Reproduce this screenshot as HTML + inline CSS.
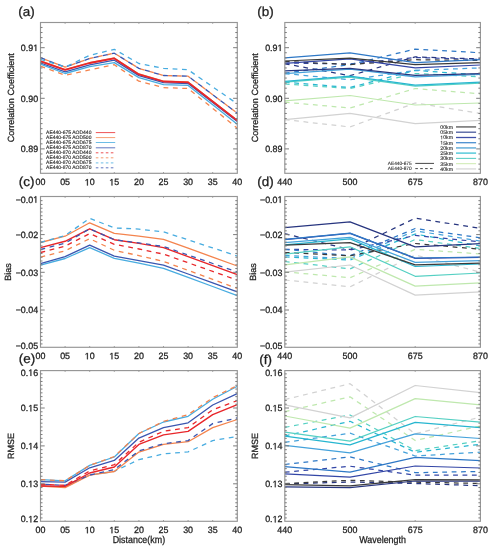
<!DOCTYPE html>
<html><head><meta charset="utf-8"><style>
html,body{margin:0;padding:0;background:#fff;}
svg{display:block;filter:blur(0.45px);}
text{font-family:"Liberation Sans", sans-serif;text-rendering:geometricPrecision;fill:#1e1e1e;stroke:#1e1e1e;stroke-width:0.18px;}
</style></head><body>
<svg width="494" height="550" viewBox="0 0 494 550">
<rect width="494" height="550" fill="#fff"/>
<defs>
<clipPath id="clipL0"><rect x="40.5" y="22.5" width="196.8" height="150.8"/></clipPath>
<clipPath id="clipR0"><rect x="284.8" y="22.5" width="195.59999999999997" height="150.8"/></clipPath>
<clipPath id="clipL1"><rect x="40.5" y="196.5" width="196.8" height="150.8"/></clipPath>
<clipPath id="clipR1"><rect x="284.8" y="196.5" width="195.59999999999997" height="150.8"/></clipPath>
<clipPath id="clipL2"><rect x="40.5" y="370.6" width="196.8" height="150.69999999999993"/></clipPath>
<clipPath id="clipR2"><rect x="284.8" y="370.6" width="195.59999999999997" height="150.69999999999993"/></clipPath>
</defs>
<g clip-path="url(#clipL0)">
<polyline points="40.50,61.00 65.10,69.60 89.70,62.70 114.30,58.00 138.90,74.00 163.50,81.10 188.10,82.00 212.70,101.20 237.30,120.40" fill="none" stroke="#f4844e" stroke-width="1.4" stroke-linejoin="round"/>
<polyline points="40.50,63.00 65.10,71.90 89.70,64.80 114.30,60.20 138.90,75.60 163.50,82.60 188.10,83.50 212.70,102.55 237.30,121.60" fill="none" stroke="#3a56b0" stroke-width="1.3" stroke-linejoin="round"/>
<polyline points="40.50,61.30 65.10,69.90 89.70,63.00 114.30,58.40 138.90,74.40 163.50,81.50 188.10,82.40 212.70,101.50 237.30,120.60" fill="none" stroke="#e8262a" stroke-width="1.8" stroke-linejoin="round"/>
<polyline points="40.50,64.20 65.10,73.50 89.70,66.70 114.30,62.60 138.90,77.60 163.50,84.70 188.10,85.40 212.70,104.80 237.30,124.20" fill="none" stroke="#48ace0" stroke-width="1.3" stroke-linejoin="round"/>
<polyline points="40.50,66.20 65.10,75.30 89.70,69.90 114.30,64.70 138.90,81.20 163.50,87.60 188.10,88.50 212.70,108.35 237.30,128.20" fill="none" stroke="#f4844e" stroke-width="1.3" stroke-linejoin="round" stroke-dasharray="4.8 4.6" stroke-dashoffset="0"/>
<polyline points="40.50,57.70 65.10,67.10 89.70,58.50 114.30,53.20 138.90,68.40 163.50,75.50 188.10,76.20 212.70,94.70 237.30,113.20" fill="none" stroke="#f4844e" stroke-width="1.3" stroke-linejoin="round" stroke-dasharray="4.8 4.6" stroke-dashoffset="5"/>
<polyline points="40.50,57.70 65.10,67.10 89.70,58.50 114.30,53.20 138.90,68.40 163.50,75.50 188.10,76.20 212.70,94.70 237.30,113.20" fill="none" stroke="#3a56b0" stroke-width="1.3" stroke-linejoin="round" stroke-dasharray="4.8 4.6" stroke-dashoffset="0"/>
<polyline points="40.50,59.30 65.10,67.10 89.70,55.30 114.30,49.30 138.90,63.50 163.50,68.40 188.10,69.80 212.70,86.80 237.30,103.80" fill="none" stroke="#48ace0" stroke-width="1.3" stroke-linejoin="round" stroke-dasharray="4.8 4.6" stroke-dashoffset="0"/>
</g><g clip-path="url(#clipL1)">
<polyline points="40.50,257.20 65.10,250.80 89.70,238.70 114.30,250.30 138.90,255.60 163.50,261.40 188.10,270.40 212.70,279.40 237.30,288.40" fill="none" stroke="#f4844e" stroke-width="1.3" stroke-linejoin="round" stroke-dasharray="4.8 4.6" stroke-dashoffset="0"/>
<polyline points="40.50,252.50 65.10,246.10 89.70,233.60 114.30,244.30 138.90,249.00 163.50,254.10 188.10,262.77 212.70,271.43 237.30,280.10" fill="none" stroke="#e8262a" stroke-width="1.3" stroke-linejoin="round" stroke-dasharray="4.8 4.6" stroke-dashoffset="0"/>
<polyline points="40.50,265.20 65.10,258.50 89.70,247.60 114.30,258.30 138.90,263.10 163.50,268.30 188.10,277.40 212.70,286.50 237.30,295.60" fill="none" stroke="#48ace0" stroke-width="1.3" stroke-linejoin="round"/>
<polyline points="40.50,263.60 65.10,256.60 89.70,245.10 114.30,256.10 138.90,260.60 163.50,265.10 188.10,274.00 212.70,282.90 237.30,291.80" fill="none" stroke="#3a56b0" stroke-width="1.3" stroke-linejoin="round"/>
<polyline points="40.50,242.50 65.10,236.20 89.70,222.80 114.30,233.40 138.90,236.10 163.50,239.30 188.10,248.20 212.70,257.10 237.30,266.00" fill="none" stroke="#f4844e" stroke-width="1.3" stroke-linejoin="round"/>
<polyline points="40.50,247.60 65.10,241.30 89.70,228.80 114.30,239.70 138.90,243.40 163.50,247.60 188.10,256.60 212.70,265.60 237.30,274.60" fill="none" stroke="#e8262a" stroke-width="1.4" stroke-linejoin="round"/>
<polyline points="40.50,249.50 65.10,243.20 89.70,228.80 114.30,239.70 138.90,242.90 163.50,246.50 188.10,255.00 212.70,263.50 237.30,272.00" fill="none" stroke="#3a56b0" stroke-width="1.3" stroke-linejoin="round" stroke-dasharray="4.8 4.6" stroke-dashoffset="0"/>
<polyline points="40.50,242.50 65.10,235.50 89.70,218.30 114.30,227.90 138.90,229.10 163.50,231.80 188.10,239.87 212.70,247.93 237.30,256.00" fill="none" stroke="#48ace0" stroke-width="1.3" stroke-linejoin="round" stroke-dasharray="4.8 4.6" stroke-dashoffset="0"/>
</g><g clip-path="url(#clipL2)">
<polyline points="40.50,485.50 65.10,487.00 89.70,475.10 114.30,471.30 138.90,459.70 163.50,453.90 188.10,451.90 212.70,440.60 237.30,436.50" fill="none" stroke="#48ace0" stroke-width="1.3" stroke-linejoin="round" stroke-dasharray="4.8 4.6" stroke-dashoffset="0"/>
<polyline points="40.50,486.00 65.10,487.70 89.70,475.10 114.30,471.50 138.90,452.10 163.50,444.40 188.10,441.70 212.70,427.60 237.30,419.50" fill="none" stroke="#f4844e" stroke-width="1.3" stroke-linejoin="round"/>
<polyline points="40.50,484.30 65.10,485.30 89.70,475.10 114.30,469.60 138.90,450.90 163.50,443.70 188.10,440.60 212.70,423.60 237.30,417.90" fill="none" stroke="#3a56b0" stroke-width="1.3" stroke-linejoin="round" stroke-dasharray="4.8 4.6" stroke-dashoffset="4.7"/>
<polyline points="40.50,486.00 65.10,486.40 89.70,473.00 114.30,467.00 138.90,444.40 163.50,434.90 188.10,431.40 212.70,414.70 237.30,404.60" fill="none" stroke="#e8262a" stroke-width="1.4" stroke-linejoin="round"/>
<polyline points="40.50,484.30 65.10,485.30 89.70,471.00 114.30,464.70 138.90,442.20 163.50,431.30 188.10,427.60 212.70,409.80 237.30,400.60" fill="none" stroke="#e8262a" stroke-width="1.3" stroke-linejoin="round" stroke-dasharray="4.8 4.6" stroke-dashoffset="0"/>
<polyline points="40.50,481.60 65.10,482.10 89.70,467.80 114.30,460.40 138.90,438.10 163.50,427.70 188.10,422.80 212.70,405.00 237.30,393.60" fill="none" stroke="#3a56b0" stroke-width="1.3" stroke-linejoin="round"/>
<polyline points="40.50,479.60 65.10,480.80 89.70,465.40 114.30,457.00 138.90,433.50 163.50,422.00 188.10,416.30 212.70,399.30 237.30,386.30" fill="none" stroke="#48ace0" stroke-width="1.3" stroke-linejoin="round"/>
<polyline points="40.50,479.60 65.10,480.80 89.70,465.40 114.30,456.50 138.90,433.50 163.50,421.50 188.10,414.70 212.70,397.70 237.30,385.50" fill="none" stroke="#f4844e" stroke-width="1.3" stroke-linejoin="round" stroke-dasharray="4.8 4.6" stroke-dashoffset="0"/>
</g>
<g clip-path="url(#clipR0)">
<polyline points="284.80,119.60 350.00,127.00 415.20,103.00 480.40,113.40" fill="none" stroke="#d2d2d2" stroke-width="1.25" stroke-linejoin="round" stroke-dasharray="4.8 4.6" stroke-dashoffset="0"/>
<polyline points="284.80,102.20 350.00,108.00 415.20,88.50 480.40,93.90" fill="none" stroke="#bfe8ae" stroke-width="1.25" stroke-linejoin="round" stroke-dasharray="4.8 4.6" stroke-dashoffset="0"/>
<polyline points="284.80,84.00 350.00,88.50 415.20,73.50 480.40,77.00" fill="none" stroke="#55d0c3" stroke-width="1.25" stroke-linejoin="round" stroke-dasharray="4.8 4.6" stroke-dashoffset="0"/>
<polyline points="284.80,82.20 350.00,87.50 415.20,70.40 480.40,74.90" fill="none" stroke="#27b6d0" stroke-width="1.25" stroke-linejoin="round" stroke-dasharray="4.8 4.6" stroke-dashoffset="0"/>
<polyline points="284.80,73.60 350.00,79.80 415.20,70.40 480.40,67.90" fill="none" stroke="#45a2db" stroke-width="1.25" stroke-linejoin="round" stroke-dasharray="4.8 4.6" stroke-dashoffset="0"/>
<polyline points="284.80,63.00 350.00,64.00 415.20,57.50 480.40,59.50" fill="none" stroke="#3346a6" stroke-width="1.25" stroke-linejoin="round" stroke-dasharray="4.8 4.6" stroke-dashoffset="0"/>
<polyline points="284.80,73.20 350.00,64.60 415.20,49.10 480.40,52.80" fill="none" stroke="#2e78c6" stroke-width="1.25" stroke-linejoin="round" stroke-dasharray="4.8 4.6" stroke-dashoffset="0"/>
<polyline points="284.80,63.80 350.00,75.70 415.20,56.90 480.40,58.90" fill="none" stroke="#27357f" stroke-width="1.25" stroke-linejoin="round" stroke-dasharray="4.8 4.6" stroke-dashoffset="0"/>
<polyline points="284.80,61.40 350.00,64.60 415.20,59.70 480.40,60.50" fill="none" stroke="#3a3a3a" stroke-width="1.25" stroke-linejoin="round" stroke-dasharray="4.8 4.6" stroke-dashoffset="0"/>
<polyline points="284.80,119.60 350.00,113.40 415.20,123.70 480.40,120.40" fill="none" stroke="#d2d2d2" stroke-width="1.25" stroke-linejoin="round"/>
<polyline points="284.80,100.90 350.00,95.50 415.20,105.00 480.40,103.00" fill="none" stroke="#bfe8ae" stroke-width="1.25" stroke-linejoin="round"/>
<polyline points="284.80,82.20 350.00,77.20 415.20,86.20 480.40,83.20" fill="none" stroke="#55d0c3" stroke-width="1.25" stroke-linejoin="round"/>
<polyline points="284.80,81.40 350.00,76.10 415.20,85.10 480.40,82.20" fill="none" stroke="#27b6d0" stroke-width="1.25" stroke-linejoin="round"/>
<polyline points="284.80,73.60 350.00,69.10 415.20,76.90 480.40,74.50" fill="none" stroke="#45a2db" stroke-width="1.25" stroke-linejoin="round"/>
<polyline points="284.80,63.40 350.00,58.90 415.20,67.90 480.40,65.00" fill="none" stroke="#3346a6" stroke-width="1.25" stroke-linejoin="round"/>
<polyline points="284.80,57.90 350.00,52.80 415.20,62.60 480.40,59.70" fill="none" stroke="#2e78c6" stroke-width="1.25" stroke-linejoin="round"/>
<polyline points="284.80,70.80 350.00,68.30 415.20,75.30 480.40,73.60" fill="none" stroke="#27357f" stroke-width="1.25" stroke-linejoin="round"/>
<polyline points="284.80,61.00 350.00,58.10 415.20,64.60 480.40,62.60" fill="none" stroke="#3a3a3a" stroke-width="1.25" stroke-linejoin="round"/>
</g>
<g clip-path="url(#clipR1)">
<polyline points="284.80,280.00 350.00,286.80 415.20,255.00 480.40,272.20" fill="none" stroke="#d2d2d2" stroke-width="1.25" stroke-linejoin="round" stroke-dasharray="4.8 4.6" stroke-dashoffset="0"/>
<polyline points="284.80,271.80 350.00,277.80 415.20,249.30 480.40,254.00" fill="none" stroke="#bfe8ae" stroke-width="1.25" stroke-linejoin="round" stroke-dasharray="4.8 4.6" stroke-dashoffset="0"/>
<polyline points="284.80,261.50 350.00,268.90 415.20,239.50 480.40,248.50" fill="none" stroke="#55d0c3" stroke-width="1.25" stroke-linejoin="round" stroke-dasharray="4.8 4.6" stroke-dashoffset="0"/>
<polyline points="284.80,257.00 350.00,260.00 415.20,234.00 480.40,246.00" fill="none" stroke="#27b6d0" stroke-width="1.25" stroke-linejoin="round" stroke-dasharray="4.8 4.6" stroke-dashoffset="0"/>
<polyline points="284.80,255.50 350.00,258.60 415.20,230.80 480.40,241.00" fill="none" stroke="#45a2db" stroke-width="1.25" stroke-linejoin="round" stroke-dasharray="4.8 4.6" stroke-dashoffset="0"/>
<polyline points="284.80,249.30 350.00,250.00 415.20,235.40 480.40,241.90" fill="none" stroke="#3346a6" stroke-width="1.25" stroke-linejoin="round" stroke-dasharray="4.8 4.6" stroke-dashoffset="0"/>
<polyline points="284.80,249.30 350.00,255.80 415.20,228.50 480.40,237.80" fill="none" stroke="#2e78c6" stroke-width="1.25" stroke-linejoin="round" stroke-dasharray="4.8 4.6" stroke-dashoffset="0"/>
<polyline points="284.80,233.70 350.00,249.50 415.20,218.20 480.40,228.30" fill="none" stroke="#27357f" stroke-width="1.25" stroke-linejoin="round" stroke-dasharray="4.8 4.6" stroke-dashoffset="0"/>
<polyline points="284.80,252.50 350.00,255.80 415.20,243.50 480.40,249.30" fill="none" stroke="#3a3a3a" stroke-width="1.25" stroke-linejoin="round" stroke-dasharray="4.8 4.6" stroke-dashoffset="0"/>
<polyline points="284.80,272.20 350.00,265.00 415.20,295.10 480.40,291.80" fill="none" stroke="#d2d2d2" stroke-width="1.25" stroke-linejoin="round"/>
<polyline points="284.80,264.80 350.00,256.90 415.20,286.10 480.40,282.80" fill="none" stroke="#bfe8ae" stroke-width="1.25" stroke-linejoin="round"/>
<polyline points="284.80,254.20 350.00,246.80 415.20,276.30 480.40,273.00" fill="none" stroke="#55d0c3" stroke-width="1.25" stroke-linejoin="round"/>
<polyline points="284.80,244.80 350.00,238.80 415.20,266.50 480.40,264.00" fill="none" stroke="#27b6d0" stroke-width="1.25" stroke-linejoin="round"/>
<polyline points="284.80,242.70 350.00,237.30 415.20,262.40 480.40,260.70" fill="none" stroke="#45a2db" stroke-width="1.25" stroke-linejoin="round"/>
<polyline points="284.80,239.60 350.00,233.30 415.20,258.30 480.40,257.30" fill="none" stroke="#3346a6" stroke-width="1.25" stroke-linejoin="round"/>
<polyline points="284.80,239.30 350.00,233.10 415.20,258.00 480.40,257.00" fill="none" stroke="#2e78c6" stroke-width="1.25" stroke-linejoin="round"/>
<polyline points="284.80,227.70 350.00,221.80 415.20,246.80 480.40,243.60" fill="none" stroke="#27357f" stroke-width="1.25" stroke-linejoin="round"/>
<polyline points="284.80,245.20 350.00,242.70 415.20,264.80 480.40,263.20" fill="none" stroke="#3a3a3a" stroke-width="1.25" stroke-linejoin="round"/>
</g>
<g clip-path="url(#clipR2)">
<polyline points="284.80,399.60 350.00,383.70 415.20,433.90 480.40,417.00" fill="none" stroke="#d2d2d2" stroke-width="1.25" stroke-linejoin="round" stroke-dasharray="4.8 4.6" stroke-dashoffset="0"/>
<polyline points="284.80,411.60 350.00,396.80 415.20,440.50 480.40,426.00" fill="none" stroke="#bfe8ae" stroke-width="1.25" stroke-linejoin="round" stroke-dasharray="4.8 4.6" stroke-dashoffset="0"/>
<polyline points="284.80,427.40 350.00,415.00 415.20,450.60 480.40,440.80" fill="none" stroke="#55d0c3" stroke-width="1.25" stroke-linejoin="round" stroke-dasharray="4.8 4.6" stroke-dashoffset="0"/>
<polyline points="284.80,436.00 350.00,421.30 415.20,452.30 480.40,444.20" fill="none" stroke="#27b6d0" stroke-width="1.25" stroke-linejoin="round" stroke-dasharray="4.8 4.6" stroke-dashoffset="0"/>
<polyline points="284.80,442.40 350.00,433.20 415.20,456.00 480.40,452.10" fill="none" stroke="#45a2db" stroke-width="1.25" stroke-linejoin="round" stroke-dasharray="4.8 4.6" stroke-dashoffset="0"/>
<polyline points="284.80,472.20 350.00,466.20 415.20,475.20 480.40,475.20" fill="none" stroke="#3346a6" stroke-width="1.25" stroke-linejoin="round" stroke-dasharray="4.8 4.6" stroke-dashoffset="0"/>
<polyline points="284.80,464.50 350.00,456.90 415.20,472.70 480.40,471.40" fill="none" stroke="#2e78c6" stroke-width="1.25" stroke-linejoin="round" stroke-dasharray="4.8 4.6" stroke-dashoffset="0"/>
<polyline points="284.80,484.00 350.00,482.00 415.20,483.50 480.40,485.70" fill="none" stroke="#27357f" stroke-width="1.25" stroke-linejoin="round" stroke-dasharray="4.8 4.6" stroke-dashoffset="0"/>
<polyline points="284.80,483.60 350.00,480.30 415.20,482.20 480.40,483.40" fill="none" stroke="#3a3a3a" stroke-width="1.25" stroke-linejoin="round" stroke-dasharray="4.8 4.6" stroke-dashoffset="0"/>
<polyline points="284.80,404.90 350.00,417.90 415.20,385.50 480.40,392.70" fill="none" stroke="#d2d2d2" stroke-width="1.25" stroke-linejoin="round"/>
<polyline points="284.80,416.00 350.00,428.10 415.20,398.60 480.40,404.90" fill="none" stroke="#bfe8ae" stroke-width="1.25" stroke-linejoin="round"/>
<polyline points="284.80,432.10 350.00,441.20 415.20,416.50 480.40,422.20" fill="none" stroke="#55d0c3" stroke-width="1.25" stroke-linejoin="round"/>
<polyline points="284.80,436.10 350.00,444.80 415.20,422.30 480.40,427.60" fill="none" stroke="#27b6d0" stroke-width="1.25" stroke-linejoin="round"/>
<polyline points="284.80,445.40 350.00,452.80 415.20,433.90 480.40,438.50" fill="none" stroke="#45a2db" stroke-width="1.25" stroke-linejoin="round"/>
<polyline points="284.80,473.80 350.00,477.10 415.20,466.00 480.40,468.00" fill="none" stroke="#3346a6" stroke-width="1.25" stroke-linejoin="round"/>
<polyline points="284.80,466.70 350.00,472.20 415.20,457.40 480.40,460.70" fill="none" stroke="#2e78c6" stroke-width="1.25" stroke-linejoin="round"/>
<polyline points="284.80,486.90 350.00,487.60 415.20,481.00 480.40,481.10" fill="none" stroke="#27357f" stroke-width="1.25" stroke-linejoin="round"/>
<polyline points="284.80,484.70 350.00,485.80 415.20,479.70 480.40,479.80" fill="none" stroke="#3a3a3a" stroke-width="1.25" stroke-linejoin="round"/>
</g>
<rect x="40.50" y="22.50" width="196.80" height="150.80" fill="none" stroke="#959595" stroke-width="1.15"/>
<path d="M40.50 169.14h2.0M237.30 169.14h-2.0M40.50 164.08h2.0M237.30 164.08h-2.0M40.50 159.02h2.0M237.30 159.02h-2.0M40.50 153.96h2.0M237.30 153.96h-2.0M40.50 148.90h4.2M237.30 148.90h-4.2M40.50 143.84h2.0M237.30 143.84h-2.0M40.50 138.78h2.0M237.30 138.78h-2.0M40.50 133.72h2.0M237.30 133.72h-2.0M40.50 128.66h2.0M237.30 128.66h-2.0M40.50 123.60h2.0M237.30 123.60h-2.0M40.50 118.54h2.0M237.30 118.54h-2.0M40.50 113.48h2.0M237.30 113.48h-2.0M40.50 108.42h2.0M237.30 108.42h-2.0M40.50 103.36h2.0M237.30 103.36h-2.0M40.50 98.30h4.2M237.30 98.30h-4.2M40.50 93.24h2.0M237.30 93.24h-2.0M40.50 88.18h2.0M237.30 88.18h-2.0M40.50 83.12h2.0M237.30 83.12h-2.0M40.50 78.06h2.0M237.30 78.06h-2.0M40.50 73.00h2.0M237.30 73.00h-2.0M40.50 67.94h2.0M237.30 67.94h-2.0M40.50 62.88h2.0M237.30 62.88h-2.0M40.50 57.82h2.0M237.30 57.82h-2.0M40.50 52.76h2.0M237.30 52.76h-2.0M40.50 47.70h4.2M237.30 47.70h-4.2M40.50 42.64h2.0M237.30 42.64h-2.0M40.50 37.58h2.0M237.30 37.58h-2.0M40.50 32.52h2.0M237.30 32.52h-2.0M40.50 27.46h2.0M237.30 27.46h-2.0" stroke="#7c7c7c" stroke-width="1.0" fill="none"/>
<path d="M65.10 173.30v-1.3M65.10 22.50v1.3M89.70 173.30v-1.3M89.70 22.50v1.3M114.30 173.30v-1.3M114.30 22.50v1.3M138.90 173.30v-1.3M138.90 22.50v1.3M163.50 173.30v-1.3M163.50 22.50v1.3M188.10 173.30v-1.3M188.10 22.50v1.3M212.70 173.30v-1.3M212.70 22.50v1.3" stroke="#959595" stroke-width="0.9" fill="none"/>
<rect x="40.50" y="196.50" width="196.80" height="150.80" fill="none" stroke="#959595" stroke-width="1.15"/>
<path d="M40.50 343.93h2.0M237.30 343.93h-2.0M40.50 340.16h2.0M237.30 340.16h-2.0M40.50 336.39h2.0M237.30 336.39h-2.0M40.50 332.62h2.0M237.30 332.62h-2.0M40.50 328.85h2.0M237.30 328.85h-2.0M40.50 325.08h2.0M237.30 325.08h-2.0M40.50 321.31h2.0M237.30 321.31h-2.0M40.50 317.54h2.0M237.30 317.54h-2.0M40.50 313.77h2.0M237.30 313.77h-2.0M40.50 310.00h4.2M237.30 310.00h-4.2M40.50 306.23h2.0M237.30 306.23h-2.0M40.50 302.46h2.0M237.30 302.46h-2.0M40.50 298.69h2.0M237.30 298.69h-2.0M40.50 294.92h2.0M237.30 294.92h-2.0M40.50 291.15h2.0M237.30 291.15h-2.0M40.50 287.38h2.0M237.30 287.38h-2.0M40.50 283.61h2.0M237.30 283.61h-2.0M40.50 279.84h2.0M237.30 279.84h-2.0M40.50 276.07h2.0M237.30 276.07h-2.0M40.50 272.30h4.2M237.30 272.30h-4.2M40.50 268.53h2.0M237.30 268.53h-2.0M40.50 264.76h2.0M237.30 264.76h-2.0M40.50 260.99h2.0M237.30 260.99h-2.0M40.50 257.22h2.0M237.30 257.22h-2.0M40.50 253.45h2.0M237.30 253.45h-2.0M40.50 249.68h2.0M237.30 249.68h-2.0M40.50 245.91h2.0M237.30 245.91h-2.0M40.50 242.14h2.0M237.30 242.14h-2.0M40.50 238.37h2.0M237.30 238.37h-2.0M40.50 234.60h4.2M237.30 234.60h-4.2M40.50 230.83h2.0M237.30 230.83h-2.0M40.50 227.06h2.0M237.30 227.06h-2.0M40.50 223.29h2.0M237.30 223.29h-2.0M40.50 219.52h2.0M237.30 219.52h-2.0M40.50 215.75h2.0M237.30 215.75h-2.0M40.50 211.98h2.0M237.30 211.98h-2.0M40.50 208.21h2.0M237.30 208.21h-2.0M40.50 204.44h2.0M237.30 204.44h-2.0M40.50 200.67h2.0M237.30 200.67h-2.0" stroke="#7c7c7c" stroke-width="1.0" fill="none"/>
<path d="M65.10 347.30v-1.3M65.10 196.50v1.3M89.70 347.30v-1.3M89.70 196.50v1.3M114.30 347.30v-1.3M114.30 196.50v1.3M138.90 347.30v-1.3M138.90 196.50v1.3M163.50 347.30v-1.3M163.50 196.50v1.3M188.10 347.30v-1.3M188.10 196.50v1.3M212.70 347.30v-1.3M212.70 196.50v1.3" stroke="#959595" stroke-width="0.9" fill="none"/>
<rect x="40.50" y="370.60" width="196.80" height="150.70" fill="none" stroke="#959595" stroke-width="1.15"/>
<path d="M40.50 517.91h2.0M237.30 517.91h-2.0M40.50 514.12h2.0M237.30 514.12h-2.0M40.50 510.33h2.0M237.30 510.33h-2.0M40.50 506.54h2.0M237.30 506.54h-2.0M40.50 502.75h2.0M237.30 502.75h-2.0M40.50 498.96h2.0M237.30 498.96h-2.0M40.50 495.17h2.0M237.30 495.17h-2.0M40.50 491.38h2.0M237.30 491.38h-2.0M40.50 487.59h2.0M237.30 487.59h-2.0M40.50 483.80h4.2M237.30 483.80h-4.2M40.50 480.01h2.0M237.30 480.01h-2.0M40.50 476.22h2.0M237.30 476.22h-2.0M40.50 472.43h2.0M237.30 472.43h-2.0M40.50 468.64h2.0M237.30 468.64h-2.0M40.50 464.85h2.0M237.30 464.85h-2.0M40.50 461.06h2.0M237.30 461.06h-2.0M40.50 457.27h2.0M237.30 457.27h-2.0M40.50 453.48h2.0M237.30 453.48h-2.0M40.50 449.69h2.0M237.30 449.69h-2.0M40.50 445.90h4.2M237.30 445.90h-4.2M40.50 442.11h2.0M237.30 442.11h-2.0M40.50 438.32h2.0M237.30 438.32h-2.0M40.50 434.53h2.0M237.30 434.53h-2.0M40.50 430.74h2.0M237.30 430.74h-2.0M40.50 426.95h2.0M237.30 426.95h-2.0M40.50 423.16h2.0M237.30 423.16h-2.0M40.50 419.37h2.0M237.30 419.37h-2.0M40.50 415.58h2.0M237.30 415.58h-2.0M40.50 411.79h2.0M237.30 411.79h-2.0M40.50 408.00h4.2M237.30 408.00h-4.2M40.50 404.21h2.0M237.30 404.21h-2.0M40.50 400.42h2.0M237.30 400.42h-2.0M40.50 396.63h2.0M237.30 396.63h-2.0M40.50 392.84h2.0M237.30 392.84h-2.0M40.50 389.05h2.0M237.30 389.05h-2.0M40.50 385.26h2.0M237.30 385.26h-2.0M40.50 381.47h2.0M237.30 381.47h-2.0M40.50 377.68h2.0M237.30 377.68h-2.0M40.50 373.89h2.0M237.30 373.89h-2.0" stroke="#7c7c7c" stroke-width="1.0" fill="none"/>
<path d="M65.10 521.30v-1.3M65.10 370.60v1.3M89.70 521.30v-1.3M89.70 370.60v1.3M114.30 521.30v-1.3M114.30 370.60v1.3M138.90 521.30v-1.3M138.90 370.60v1.3M163.50 521.30v-1.3M163.50 370.60v1.3M188.10 521.30v-1.3M188.10 370.60v1.3M212.70 521.30v-1.3M212.70 370.60v1.3" stroke="#959595" stroke-width="0.9" fill="none"/>
<rect x="284.80" y="22.50" width="195.60" height="150.80" fill="none" stroke="#959595" stroke-width="1.15"/>
<path d="M284.80 169.14h2.0M480.40 169.14h-2.0M284.80 164.08h2.0M480.40 164.08h-2.0M284.80 159.02h2.0M480.40 159.02h-2.0M284.80 153.96h2.0M480.40 153.96h-2.0M284.80 148.90h4.2M480.40 148.90h-4.2M284.80 143.84h2.0M480.40 143.84h-2.0M284.80 138.78h2.0M480.40 138.78h-2.0M284.80 133.72h2.0M480.40 133.72h-2.0M284.80 128.66h2.0M480.40 128.66h-2.0M284.80 123.60h2.0M480.40 123.60h-2.0M284.80 118.54h2.0M480.40 118.54h-2.0M284.80 113.48h2.0M480.40 113.48h-2.0M284.80 108.42h2.0M480.40 108.42h-2.0M284.80 103.36h2.0M480.40 103.36h-2.0M284.80 98.30h4.2M480.40 98.30h-4.2M284.80 93.24h2.0M480.40 93.24h-2.0M284.80 88.18h2.0M480.40 88.18h-2.0M284.80 83.12h2.0M480.40 83.12h-2.0M284.80 78.06h2.0M480.40 78.06h-2.0M284.80 73.00h2.0M480.40 73.00h-2.0M284.80 67.94h2.0M480.40 67.94h-2.0M284.80 62.88h2.0M480.40 62.88h-2.0M284.80 57.82h2.0M480.40 57.82h-2.0M284.80 52.76h2.0M480.40 52.76h-2.0M284.80 47.70h4.2M480.40 47.70h-4.2M284.80 42.64h2.0M480.40 42.64h-2.0M284.80 37.58h2.0M480.40 37.58h-2.0M284.80 32.52h2.0M480.40 32.52h-2.0M284.80 27.46h2.0M480.40 27.46h-2.0" stroke="#7c7c7c" stroke-width="1.0" fill="none"/>
<path d="M350.00 173.30v-1.3M350.00 22.50v1.3M415.20 173.30v-1.3M415.20 22.50v1.3" stroke="#959595" stroke-width="0.9" fill="none"/>
<rect x="284.80" y="196.50" width="195.60" height="150.80" fill="none" stroke="#959595" stroke-width="1.15"/>
<path d="M284.80 343.93h2.0M480.40 343.93h-2.0M284.80 340.16h2.0M480.40 340.16h-2.0M284.80 336.39h2.0M480.40 336.39h-2.0M284.80 332.62h2.0M480.40 332.62h-2.0M284.80 328.85h2.0M480.40 328.85h-2.0M284.80 325.08h2.0M480.40 325.08h-2.0M284.80 321.31h2.0M480.40 321.31h-2.0M284.80 317.54h2.0M480.40 317.54h-2.0M284.80 313.77h2.0M480.40 313.77h-2.0M284.80 310.00h4.2M480.40 310.00h-4.2M284.80 306.23h2.0M480.40 306.23h-2.0M284.80 302.46h2.0M480.40 302.46h-2.0M284.80 298.69h2.0M480.40 298.69h-2.0M284.80 294.92h2.0M480.40 294.92h-2.0M284.80 291.15h2.0M480.40 291.15h-2.0M284.80 287.38h2.0M480.40 287.38h-2.0M284.80 283.61h2.0M480.40 283.61h-2.0M284.80 279.84h2.0M480.40 279.84h-2.0M284.80 276.07h2.0M480.40 276.07h-2.0M284.80 272.30h4.2M480.40 272.30h-4.2M284.80 268.53h2.0M480.40 268.53h-2.0M284.80 264.76h2.0M480.40 264.76h-2.0M284.80 260.99h2.0M480.40 260.99h-2.0M284.80 257.22h2.0M480.40 257.22h-2.0M284.80 253.45h2.0M480.40 253.45h-2.0M284.80 249.68h2.0M480.40 249.68h-2.0M284.80 245.91h2.0M480.40 245.91h-2.0M284.80 242.14h2.0M480.40 242.14h-2.0M284.80 238.37h2.0M480.40 238.37h-2.0M284.80 234.60h4.2M480.40 234.60h-4.2M284.80 230.83h2.0M480.40 230.83h-2.0M284.80 227.06h2.0M480.40 227.06h-2.0M284.80 223.29h2.0M480.40 223.29h-2.0M284.80 219.52h2.0M480.40 219.52h-2.0M284.80 215.75h2.0M480.40 215.75h-2.0M284.80 211.98h2.0M480.40 211.98h-2.0M284.80 208.21h2.0M480.40 208.21h-2.0M284.80 204.44h2.0M480.40 204.44h-2.0M284.80 200.67h2.0M480.40 200.67h-2.0" stroke="#7c7c7c" stroke-width="1.0" fill="none"/>
<path d="M350.00 347.30v-1.3M350.00 196.50v1.3M415.20 347.30v-1.3M415.20 196.50v1.3" stroke="#959595" stroke-width="0.9" fill="none"/>
<rect x="284.80" y="370.60" width="195.60" height="150.70" fill="none" stroke="#959595" stroke-width="1.15"/>
<path d="M284.80 517.91h2.0M480.40 517.91h-2.0M284.80 514.12h2.0M480.40 514.12h-2.0M284.80 510.33h2.0M480.40 510.33h-2.0M284.80 506.54h2.0M480.40 506.54h-2.0M284.80 502.75h2.0M480.40 502.75h-2.0M284.80 498.96h2.0M480.40 498.96h-2.0M284.80 495.17h2.0M480.40 495.17h-2.0M284.80 491.38h2.0M480.40 491.38h-2.0M284.80 487.59h2.0M480.40 487.59h-2.0M284.80 483.80h4.2M480.40 483.80h-4.2M284.80 480.01h2.0M480.40 480.01h-2.0M284.80 476.22h2.0M480.40 476.22h-2.0M284.80 472.43h2.0M480.40 472.43h-2.0M284.80 468.64h2.0M480.40 468.64h-2.0M284.80 464.85h2.0M480.40 464.85h-2.0M284.80 461.06h2.0M480.40 461.06h-2.0M284.80 457.27h2.0M480.40 457.27h-2.0M284.80 453.48h2.0M480.40 453.48h-2.0M284.80 449.69h2.0M480.40 449.69h-2.0M284.80 445.90h4.2M480.40 445.90h-4.2M284.80 442.11h2.0M480.40 442.11h-2.0M284.80 438.32h2.0M480.40 438.32h-2.0M284.80 434.53h2.0M480.40 434.53h-2.0M284.80 430.74h2.0M480.40 430.74h-2.0M284.80 426.95h2.0M480.40 426.95h-2.0M284.80 423.16h2.0M480.40 423.16h-2.0M284.80 419.37h2.0M480.40 419.37h-2.0M284.80 415.58h2.0M480.40 415.58h-2.0M284.80 411.79h2.0M480.40 411.79h-2.0M284.80 408.00h4.2M480.40 408.00h-4.2M284.80 404.21h2.0M480.40 404.21h-2.0M284.80 400.42h2.0M480.40 400.42h-2.0M284.80 396.63h2.0M480.40 396.63h-2.0M284.80 392.84h2.0M480.40 392.84h-2.0M284.80 389.05h2.0M480.40 389.05h-2.0M284.80 385.26h2.0M480.40 385.26h-2.0M284.80 381.47h2.0M480.40 381.47h-2.0M284.80 377.68h2.0M480.40 377.68h-2.0M284.80 373.89h2.0M480.40 373.89h-2.0" stroke="#7c7c7c" stroke-width="1.0" fill="none"/>
<path d="M350.00 521.30v-1.3M350.00 370.60v1.3M415.20 521.30v-1.3M415.20 370.60v1.3" stroke="#959595" stroke-width="0.9" fill="none"/>
<g transform="translate(38.20,51.00) scale(0.0892,0.0920)"><text x="-194.63" y="0" font-size="100" style="font-kerning:none;stroke-width:3.04px;fill:#1e1e1e;stroke:#1e1e1e">0.9 </text><path transform="translate(-55.62,0) scale(0.04883,-0.04883)" d="M515 0L515 1237L197 1010L197 1180L530 1409L696 1409L696 0Z" fill="#1e1e1e" stroke="#1e1e1e" stroke-width="62.3"/></g>
<text transform="translate(38.20,101.60) scale(0.0892,0.0920)" font-size="100" text-anchor="end" style="stroke-width:3.04px" >0.90</text>
<text transform="translate(38.20,152.00) scale(0.0892,0.0920)" font-size="100" text-anchor="end" style="stroke-width:3.04px" >0.89</text>
<g transform="translate(38.20,202.70) scale(0.0892,0.0920)"><text x="-253.03" y="0" font-size="100" style="font-kerning:none;stroke-width:3.04px;fill:#1e1e1e;stroke:#1e1e1e">−0.0 </text><path transform="translate(-55.62,0) scale(0.04883,-0.04883)" d="M515 0L515 1237L197 1010L197 1180L530 1409L696 1409L696 0Z" fill="#1e1e1e" stroke="#1e1e1e" stroke-width="62.3"/></g>
<text transform="translate(38.20,238.10) scale(0.0892,0.0920)" font-size="100" text-anchor="end" style="stroke-width:3.04px" >−0.02</text>
<text transform="translate(38.20,275.60) scale(0.0892,0.0920)" font-size="100" text-anchor="end" style="stroke-width:3.04px" >−0.03</text>
<text transform="translate(38.20,313.40) scale(0.0892,0.0920)" font-size="100" text-anchor="end" style="stroke-width:3.04px" >−0.04</text>
<text transform="translate(38.20,348.60) scale(0.0892,0.0920)" font-size="100" text-anchor="end" style="stroke-width:3.04px" >−0.05</text>
<g transform="translate(38.20,375.90) scale(0.0892,0.0920)"><text x="-194.63" y="0" font-size="100" style="font-kerning:none;stroke-width:3.04px;fill:#1e1e1e;stroke:#1e1e1e">0. 6</text><path transform="translate(-111.23,0) scale(0.04883,-0.04883)" d="M515 0L515 1237L197 1010L197 1180L530 1409L696 1409L696 0Z" fill="#1e1e1e" stroke="#1e1e1e" stroke-width="62.3"/></g>
<g transform="translate(38.20,411.40) scale(0.0892,0.0920)"><text x="-194.63" y="0" font-size="100" style="font-kerning:none;stroke-width:3.04px;fill:#1e1e1e;stroke:#1e1e1e">0. 5</text><path transform="translate(-111.23,0) scale(0.04883,-0.04883)" d="M515 0L515 1237L197 1010L197 1180L530 1409L696 1409L696 0Z" fill="#1e1e1e" stroke="#1e1e1e" stroke-width="62.3"/></g>
<g transform="translate(38.20,449.40) scale(0.0892,0.0920)"><text x="-194.63" y="0" font-size="100" style="font-kerning:none;stroke-width:3.04px;fill:#1e1e1e;stroke:#1e1e1e">0. 4</text><path transform="translate(-111.23,0) scale(0.04883,-0.04883)" d="M515 0L515 1237L197 1010L197 1180L530 1409L696 1409L696 0Z" fill="#1e1e1e" stroke="#1e1e1e" stroke-width="62.3"/></g>
<g transform="translate(38.20,487.20) scale(0.0892,0.0920)"><text x="-194.63" y="0" font-size="100" style="font-kerning:none;stroke-width:3.04px;fill:#1e1e1e;stroke:#1e1e1e">0. 3</text><path transform="translate(-111.23,0) scale(0.04883,-0.04883)" d="M515 0L515 1237L197 1010L197 1180L530 1409L696 1409L696 0Z" fill="#1e1e1e" stroke="#1e1e1e" stroke-width="62.3"/></g>
<g transform="translate(38.20,522.40) scale(0.0892,0.0920)"><text x="-194.63" y="0" font-size="100" style="font-kerning:none;stroke-width:3.04px;fill:#1e1e1e;stroke:#1e1e1e">0. 2</text><path transform="translate(-111.23,0) scale(0.04883,-0.04883)" d="M515 0L515 1237L197 1010L197 1180L530 1409L696 1409L696 0Z" fill="#1e1e1e" stroke="#1e1e1e" stroke-width="62.3"/></g>
<g transform="translate(282.50,51.00) scale(0.0892,0.0920)"><text x="-194.63" y="0" font-size="100" style="font-kerning:none;stroke-width:3.04px;fill:#1e1e1e;stroke:#1e1e1e">0.9 </text><path transform="translate(-55.62,0) scale(0.04883,-0.04883)" d="M515 0L515 1237L197 1010L197 1180L530 1409L696 1409L696 0Z" fill="#1e1e1e" stroke="#1e1e1e" stroke-width="62.3"/></g>
<text transform="translate(282.50,101.60) scale(0.0892,0.0920)" font-size="100" text-anchor="end" style="stroke-width:3.04px" >0.90</text>
<text transform="translate(282.50,152.00) scale(0.0892,0.0920)" font-size="100" text-anchor="end" style="stroke-width:3.04px" >0.89</text>
<g transform="translate(282.50,202.70) scale(0.0892,0.0920)"><text x="-253.03" y="0" font-size="100" style="font-kerning:none;stroke-width:3.04px;fill:#1e1e1e;stroke:#1e1e1e">−0.0 </text><path transform="translate(-55.62,0) scale(0.04883,-0.04883)" d="M515 0L515 1237L197 1010L197 1180L530 1409L696 1409L696 0Z" fill="#1e1e1e" stroke="#1e1e1e" stroke-width="62.3"/></g>
<text transform="translate(282.50,238.10) scale(0.0892,0.0920)" font-size="100" text-anchor="end" style="stroke-width:3.04px" >−0.02</text>
<text transform="translate(282.50,275.60) scale(0.0892,0.0920)" font-size="100" text-anchor="end" style="stroke-width:3.04px" >−0.03</text>
<text transform="translate(282.50,313.40) scale(0.0892,0.0920)" font-size="100" text-anchor="end" style="stroke-width:3.04px" >−0.04</text>
<text transform="translate(282.50,348.60) scale(0.0892,0.0920)" font-size="100" text-anchor="end" style="stroke-width:3.04px" >−0.05</text>
<g transform="translate(282.50,375.90) scale(0.0892,0.0920)"><text x="-194.63" y="0" font-size="100" style="font-kerning:none;stroke-width:3.04px;fill:#1e1e1e;stroke:#1e1e1e">0. 6</text><path transform="translate(-111.23,0) scale(0.04883,-0.04883)" d="M515 0L515 1237L197 1010L197 1180L530 1409L696 1409L696 0Z" fill="#1e1e1e" stroke="#1e1e1e" stroke-width="62.3"/></g>
<g transform="translate(282.50,411.40) scale(0.0892,0.0920)"><text x="-194.63" y="0" font-size="100" style="font-kerning:none;stroke-width:3.04px;fill:#1e1e1e;stroke:#1e1e1e">0. 5</text><path transform="translate(-111.23,0) scale(0.04883,-0.04883)" d="M515 0L515 1237L197 1010L197 1180L530 1409L696 1409L696 0Z" fill="#1e1e1e" stroke="#1e1e1e" stroke-width="62.3"/></g>
<g transform="translate(282.50,449.40) scale(0.0892,0.0920)"><text x="-194.63" y="0" font-size="100" style="font-kerning:none;stroke-width:3.04px;fill:#1e1e1e;stroke:#1e1e1e">0. 4</text><path transform="translate(-111.23,0) scale(0.04883,-0.04883)" d="M515 0L515 1237L197 1010L197 1180L530 1409L696 1409L696 0Z" fill="#1e1e1e" stroke="#1e1e1e" stroke-width="62.3"/></g>
<g transform="translate(282.50,487.20) scale(0.0892,0.0920)"><text x="-194.63" y="0" font-size="100" style="font-kerning:none;stroke-width:3.04px;fill:#1e1e1e;stroke:#1e1e1e">0. 3</text><path transform="translate(-111.23,0) scale(0.04883,-0.04883)" d="M515 0L515 1237L197 1010L197 1180L530 1409L696 1409L696 0Z" fill="#1e1e1e" stroke="#1e1e1e" stroke-width="62.3"/></g>
<g transform="translate(282.50,522.40) scale(0.0892,0.0920)"><text x="-194.63" y="0" font-size="100" style="font-kerning:none;stroke-width:3.04px;fill:#1e1e1e;stroke:#1e1e1e">0. 2</text><path transform="translate(-111.23,0) scale(0.04883,-0.04883)" d="M515 0L515 1237L197 1010L197 1180L530 1409L696 1409L696 0Z" fill="#1e1e1e" stroke="#1e1e1e" stroke-width="62.3"/></g>
<text transform="translate(40.50,185.45) scale(0.0892,0.0920)" font-size="100" text-anchor="middle" style="stroke-width:3.04px" >00</text>
<text transform="translate(65.10,185.45) scale(0.0892,0.0920)" font-size="100" text-anchor="middle" style="stroke-width:3.04px" >05</text>
<g transform="translate(89.70,185.45) scale(0.0892,0.0920)"><text x="-55.62" y="0" font-size="100" style="font-kerning:none;stroke-width:3.04px;fill:#1e1e1e;stroke:#1e1e1e"> 0</text><path transform="translate(-55.62,0) scale(0.04883,-0.04883)" d="M515 0L515 1237L197 1010L197 1180L530 1409L696 1409L696 0Z" fill="#1e1e1e" stroke="#1e1e1e" stroke-width="62.3"/></g>
<g transform="translate(114.30,185.45) scale(0.0892,0.0920)"><text x="-55.62" y="0" font-size="100" style="font-kerning:none;stroke-width:3.04px;fill:#1e1e1e;stroke:#1e1e1e"> 5</text><path transform="translate(-55.62,0) scale(0.04883,-0.04883)" d="M515 0L515 1237L197 1010L197 1180L530 1409L696 1409L696 0Z" fill="#1e1e1e" stroke="#1e1e1e" stroke-width="62.3"/></g>
<text transform="translate(138.90,185.45) scale(0.0892,0.0920)" font-size="100" text-anchor="middle" style="stroke-width:3.04px" >20</text>
<text transform="translate(163.50,185.45) scale(0.0892,0.0920)" font-size="100" text-anchor="middle" style="stroke-width:3.04px" >25</text>
<text transform="translate(188.10,185.45) scale(0.0892,0.0920)" font-size="100" text-anchor="middle" style="stroke-width:3.04px" >30</text>
<text transform="translate(212.70,185.45) scale(0.0892,0.0920)" font-size="100" text-anchor="middle" style="stroke-width:3.04px" >35</text>
<text transform="translate(237.30,185.45) scale(0.0892,0.0920)" font-size="100" text-anchor="middle" style="stroke-width:3.04px" >40</text>
<text transform="translate(284.80,185.45) scale(0.0892,0.0920)" font-size="100" text-anchor="middle" style="stroke-width:3.04px" >440</text>
<text transform="translate(350.00,185.45) scale(0.0892,0.0920)" font-size="100" text-anchor="middle" style="stroke-width:3.04px" >500</text>
<text transform="translate(415.20,185.45) scale(0.0892,0.0920)" font-size="100" text-anchor="middle" style="stroke-width:3.04px" >675</text>
<text transform="translate(480.40,185.45) scale(0.0892,0.0920)" font-size="100" text-anchor="middle" style="stroke-width:3.04px" >870</text>
<text transform="translate(40.50,359.25) scale(0.0892,0.0920)" font-size="100" text-anchor="middle" style="stroke-width:3.04px" >00</text>
<text transform="translate(65.10,359.25) scale(0.0892,0.0920)" font-size="100" text-anchor="middle" style="stroke-width:3.04px" >05</text>
<g transform="translate(89.70,359.25) scale(0.0892,0.0920)"><text x="-55.62" y="0" font-size="100" style="font-kerning:none;stroke-width:3.04px;fill:#1e1e1e;stroke:#1e1e1e"> 0</text><path transform="translate(-55.62,0) scale(0.04883,-0.04883)" d="M515 0L515 1237L197 1010L197 1180L530 1409L696 1409L696 0Z" fill="#1e1e1e" stroke="#1e1e1e" stroke-width="62.3"/></g>
<g transform="translate(114.30,359.25) scale(0.0892,0.0920)"><text x="-55.62" y="0" font-size="100" style="font-kerning:none;stroke-width:3.04px;fill:#1e1e1e;stroke:#1e1e1e"> 5</text><path transform="translate(-55.62,0) scale(0.04883,-0.04883)" d="M515 0L515 1237L197 1010L197 1180L530 1409L696 1409L696 0Z" fill="#1e1e1e" stroke="#1e1e1e" stroke-width="62.3"/></g>
<text transform="translate(138.90,359.25) scale(0.0892,0.0920)" font-size="100" text-anchor="middle" style="stroke-width:3.04px" >20</text>
<text transform="translate(163.50,359.25) scale(0.0892,0.0920)" font-size="100" text-anchor="middle" style="stroke-width:3.04px" >25</text>
<text transform="translate(188.10,359.25) scale(0.0892,0.0920)" font-size="100" text-anchor="middle" style="stroke-width:3.04px" >30</text>
<text transform="translate(212.70,359.25) scale(0.0892,0.0920)" font-size="100" text-anchor="middle" style="stroke-width:3.04px" >35</text>
<text transform="translate(237.30,359.25) scale(0.0892,0.0920)" font-size="100" text-anchor="middle" style="stroke-width:3.04px" >40</text>
<text transform="translate(284.80,359.25) scale(0.0892,0.0920)" font-size="100" text-anchor="middle" style="stroke-width:3.04px" >440</text>
<text transform="translate(350.00,359.25) scale(0.0892,0.0920)" font-size="100" text-anchor="middle" style="stroke-width:3.04px" >500</text>
<text transform="translate(415.20,359.25) scale(0.0892,0.0920)" font-size="100" text-anchor="middle" style="stroke-width:3.04px" >675</text>
<text transform="translate(480.40,359.25) scale(0.0892,0.0920)" font-size="100" text-anchor="middle" style="stroke-width:3.04px" >870</text>
<text transform="translate(40.50,533.25) scale(0.0892,0.0920)" font-size="100" text-anchor="middle" style="stroke-width:3.04px" >00</text>
<text transform="translate(65.10,533.25) scale(0.0892,0.0920)" font-size="100" text-anchor="middle" style="stroke-width:3.04px" >05</text>
<g transform="translate(89.70,533.25) scale(0.0892,0.0920)"><text x="-55.62" y="0" font-size="100" style="font-kerning:none;stroke-width:3.04px;fill:#1e1e1e;stroke:#1e1e1e"> 0</text><path transform="translate(-55.62,0) scale(0.04883,-0.04883)" d="M515 0L515 1237L197 1010L197 1180L530 1409L696 1409L696 0Z" fill="#1e1e1e" stroke="#1e1e1e" stroke-width="62.3"/></g>
<g transform="translate(114.30,533.25) scale(0.0892,0.0920)"><text x="-55.62" y="0" font-size="100" style="font-kerning:none;stroke-width:3.04px;fill:#1e1e1e;stroke:#1e1e1e"> 5</text><path transform="translate(-55.62,0) scale(0.04883,-0.04883)" d="M515 0L515 1237L197 1010L197 1180L530 1409L696 1409L696 0Z" fill="#1e1e1e" stroke="#1e1e1e" stroke-width="62.3"/></g>
<text transform="translate(138.90,533.25) scale(0.0892,0.0920)" font-size="100" text-anchor="middle" style="stroke-width:3.04px" >20</text>
<text transform="translate(163.50,533.25) scale(0.0892,0.0920)" font-size="100" text-anchor="middle" style="stroke-width:3.04px" >25</text>
<text transform="translate(188.10,533.25) scale(0.0892,0.0920)" font-size="100" text-anchor="middle" style="stroke-width:3.04px" >30</text>
<text transform="translate(212.70,533.25) scale(0.0892,0.0920)" font-size="100" text-anchor="middle" style="stroke-width:3.04px" >35</text>
<text transform="translate(237.30,533.25) scale(0.0892,0.0920)" font-size="100" text-anchor="middle" style="stroke-width:3.04px" >40</text>
<text transform="translate(284.80,533.25) scale(0.0892,0.0920)" font-size="100" text-anchor="middle" style="stroke-width:3.04px" >440</text>
<text transform="translate(350.00,533.25) scale(0.0892,0.0920)" font-size="100" text-anchor="middle" style="stroke-width:3.04px" >500</text>
<text transform="translate(415.20,533.25) scale(0.0892,0.0920)" font-size="100" text-anchor="middle" style="stroke-width:3.04px" >675</text>
<text transform="translate(480.40,533.25) scale(0.0892,0.0920)" font-size="100" text-anchor="middle" style="stroke-width:3.04px" >870</text>
<text transform="translate(14.00,97.70) rotate(-90) scale(0.0900)" font-size="100" text-anchor="middle" style="stroke-width:2.89px">Correlation Coefficient</text>
<text transform="translate(11.40,271.90) rotate(-90) scale(0.0900)" font-size="100" text-anchor="middle" style="stroke-width:2.89px">Bias</text>
<text transform="translate(14.00,446.00) rotate(-90) scale(0.0900)" font-size="100" text-anchor="middle" style="stroke-width:2.89px">RMSE</text>
<text transform="translate(258.30,97.70) rotate(-90) scale(0.0900)" font-size="100" text-anchor="middle" style="stroke-width:2.89px">Correlation Coefficient</text>
<text transform="translate(255.70,271.90) rotate(-90) scale(0.0900)" font-size="100" text-anchor="middle" style="stroke-width:2.89px">Bias</text>
<text transform="translate(258.30,446.00) rotate(-90) scale(0.0900)" font-size="100" text-anchor="middle" style="stroke-width:2.89px">RMSE</text>
<text transform="translate(138.90,542.85) scale(0.0890,0.1000)" font-size="100" text-anchor="middle" style="stroke-width:2.80px" >Distance(km)</text>
<text transform="translate(382.60,542.85) scale(0.0890,0.1000)" font-size="100" text-anchor="middle" style="stroke-width:2.80px" >Wavelength</text>
<text transform="translate(26.40,15.90) scale(0.1352,0.1300)" font-size="100" text-anchor="middle" style="stroke-width:2.15px" >(a)</text>
<text transform="translate(265.60,16.40) scale(0.1352,0.1300)" font-size="100" text-anchor="middle" style="stroke-width:2.15px" >(b)</text>
<text transform="translate(26.60,185.60) scale(0.1352,0.1300)" font-size="100" text-anchor="middle" style="stroke-width:2.15px" >(c)</text>
<text transform="translate(265.60,185.60) scale(0.1352,0.1300)" font-size="100" text-anchor="middle" style="stroke-width:2.15px" >(d)</text>
<text transform="translate(26.90,363.30) scale(0.1352,0.1300)" font-size="100" text-anchor="middle" style="stroke-width:2.15px" >(e)</text>
<text transform="translate(265.60,363.80) scale(0.1352,0.1300)" font-size="100" text-anchor="middle" style="stroke-width:2.15px" >(f)</text>
<text transform="translate(46.10,133.70) scale(0.0500,0.0500)" font-size="100" text-anchor="start" style="stroke-width:2.80px;fill:#2c2c2c;stroke:#2c2c2c" >AE440-675 AOD440</text>
<line x1="95.8" y1="132.60" x2="115.2" y2="132.60" stroke="#e8262a" stroke-width="1.0" stroke-opacity="0.8"/>
<text transform="translate(46.10,138.70) scale(0.0500,0.0500)" font-size="100" text-anchor="start" style="stroke-width:2.80px;fill:#2c2c2c;stroke:#2c2c2c" >AE440-675 AOD500</text>
<line x1="95.8" y1="137.60" x2="115.2" y2="137.60" stroke="#f4844e" stroke-width="1.0" stroke-opacity="0.8"/>
<text transform="translate(46.10,143.60) scale(0.0500,0.0500)" font-size="100" text-anchor="start" style="stroke-width:2.80px;fill:#2c2c2c;stroke:#2c2c2c" >AE440-675 AOD675</text>
<line x1="95.8" y1="142.50" x2="115.2" y2="142.50" stroke="#48ace0" stroke-width="1.0" stroke-opacity="0.8"/>
<text transform="translate(46.10,148.90) scale(0.0500,0.0500)" font-size="100" text-anchor="start" style="stroke-width:2.80px;fill:#2c2c2c;stroke:#2c2c2c" >AE440-675 AOD870</text>
<line x1="95.8" y1="147.80" x2="115.2" y2="147.80" stroke="#3a56b0" stroke-width="1.0" stroke-opacity="0.8"/>
<text transform="translate(46.10,153.90) scale(0.0500,0.0500)" font-size="100" text-anchor="start" style="stroke-width:2.80px;fill:#2c2c2c;stroke:#2c2c2c" >AE440-870 AOD440</text>
<line x1="95.8" y1="152.80" x2="115.2" y2="152.80" stroke="#e8262a" stroke-width="1.0" stroke-opacity="0.8" stroke-dasharray="2.6 2.4"/>
<text transform="translate(46.10,158.90) scale(0.0500,0.0500)" font-size="100" text-anchor="start" style="stroke-width:2.80px;fill:#2c2c2c;stroke:#2c2c2c" >AE440-870 AOD500</text>
<line x1="95.8" y1="157.80" x2="115.2" y2="157.80" stroke="#f4844e" stroke-width="1.0" stroke-opacity="0.8" stroke-dasharray="2.6 2.4"/>
<text transform="translate(46.10,164.00) scale(0.0500,0.0500)" font-size="100" text-anchor="start" style="stroke-width:2.80px;fill:#2c2c2c;stroke:#2c2c2c" >AE440-870 AOD675</text>
<line x1="95.8" y1="162.90" x2="115.2" y2="162.90" stroke="#48ace0" stroke-width="1.0" stroke-opacity="0.8" stroke-dasharray="2.6 2.4"/>
<text transform="translate(46.10,168.90) scale(0.0500,0.0500)" font-size="100" text-anchor="start" style="stroke-width:2.80px;fill:#2c2c2c;stroke:#2c2c2c" >AE440-870 AOD870</text>
<line x1="95.8" y1="167.80" x2="115.2" y2="167.80" stroke="#3a56b0" stroke-width="1.0" stroke-opacity="0.8" stroke-dasharray="2.6 2.4"/>
<text transform="translate(440.30,128.70) scale(0.0520,0.0520)" font-size="100" text-anchor="start" style="stroke-width:2.31px;fill:#2c2c2c;stroke:#2c2c2c" >00km</text>
<line x1="456" y1="126.90" x2="476.1" y2="126.90" stroke="#858585" stroke-width="1.8"/>
<text transform="translate(440.30,134.00) scale(0.0520,0.0520)" font-size="100" text-anchor="start" style="stroke-width:2.31px;fill:#2c2c2c;stroke:#2c2c2c" >05km</text>
<line x1="456" y1="132.20" x2="476.1" y2="132.20" stroke="#4a5a9c" stroke-width="1.3"/>
<g transform="translate(440.30,139.30) scale(0.0520,0.0520)"><text x="0.00" y="0" font-size="100" style="font-kerning:none;stroke-width:2.31px;fill:#2c2c2c;stroke:#2c2c2c"> 0km</text><path transform="translate(0.00,0) scale(0.04883,-0.04883)" d="M515 0L515 1237L197 1010L197 1180L530 1409L696 1409L696 0Z" fill="#2c2c2c" stroke="#2c2c2c" stroke-width="47.3"/></g>
<line x1="456" y1="137.50" x2="476.1" y2="137.50" stroke="#3f4fa8" stroke-width="1.3"/>
<g transform="translate(440.30,144.50) scale(0.0520,0.0520)"><text x="0.00" y="0" font-size="100" style="font-kerning:none;stroke-width:2.31px;fill:#2c2c2c;stroke:#2c2c2c"> 5km</text><path transform="translate(0.00,0) scale(0.04883,-0.04883)" d="M515 0L515 1237L197 1010L197 1180L530 1409L696 1409L696 0Z" fill="#2c2c2c" stroke="#2c2c2c" stroke-width="47.3"/></g>
<line x1="456" y1="142.70" x2="476.1" y2="142.70" stroke="#4a8fd0" stroke-width="1.3"/>
<text transform="translate(440.30,149.70) scale(0.0520,0.0520)" font-size="100" text-anchor="start" style="stroke-width:2.31px;fill:#2c2c2c;stroke:#2c2c2c" >20km</text>
<line x1="456" y1="147.90" x2="476.1" y2="147.90" stroke="#80bce0" stroke-width="1.8"/>
<text transform="translate(440.30,154.90) scale(0.0520,0.0520)" font-size="100" text-anchor="start" style="stroke-width:2.31px;fill:#2c2c2c;stroke:#2c2c2c" >25km</text>
<line x1="456" y1="153.10" x2="476.1" y2="153.10" stroke="#4cc6d8" stroke-width="1.4"/>
<text transform="translate(440.30,160.20) scale(0.0520,0.0520)" font-size="100" text-anchor="start" style="stroke-width:2.31px;fill:#2c2c2c;stroke:#2c2c2c" >30km</text>
<line x1="456" y1="158.40" x2="476.1" y2="158.40" stroke="#60d0c8" stroke-width="1.1"/>
<text transform="translate(440.30,165.50) scale(0.0520,0.0520)" font-size="100" text-anchor="start" style="stroke-width:2.31px;fill:#2c2c2c;stroke:#2c2c2c" >35km</text>
<line x1="456" y1="163.70" x2="476.1" y2="163.70" stroke="#cdeab0" stroke-width="1.0"/>
<text transform="translate(440.30,170.70) scale(0.0520,0.0520)" font-size="100" text-anchor="start" style="stroke-width:2.31px;fill:#2c2c2c;stroke:#2c2c2c" >40km</text>
<line x1="456" y1="168.90" x2="476.1" y2="168.90" stroke="#e2e2e2" stroke-width="1.8"/>
<text transform="translate(387.80,165.00) scale(0.0475,0.0475)" font-size="100" text-anchor="start" style="stroke-width:2.11px;fill:#2c2c2c;stroke:#2c2c2c" >AE440-675</text>
<text transform="translate(387.80,169.70) scale(0.0475,0.0475)" font-size="100" text-anchor="start" style="stroke-width:2.11px;fill:#2c2c2c;stroke:#2c2c2c" >AE440-870</text>
<line x1="415.3" y1="163.4" x2="434" y2="163.4" stroke="#333" stroke-width="0.9"/>
<line x1="415.3" y1="168.6" x2="434" y2="168.6" stroke="#333" stroke-width="0.9" stroke-dasharray="2.6 2.3"/>
</svg>
</body></html>
